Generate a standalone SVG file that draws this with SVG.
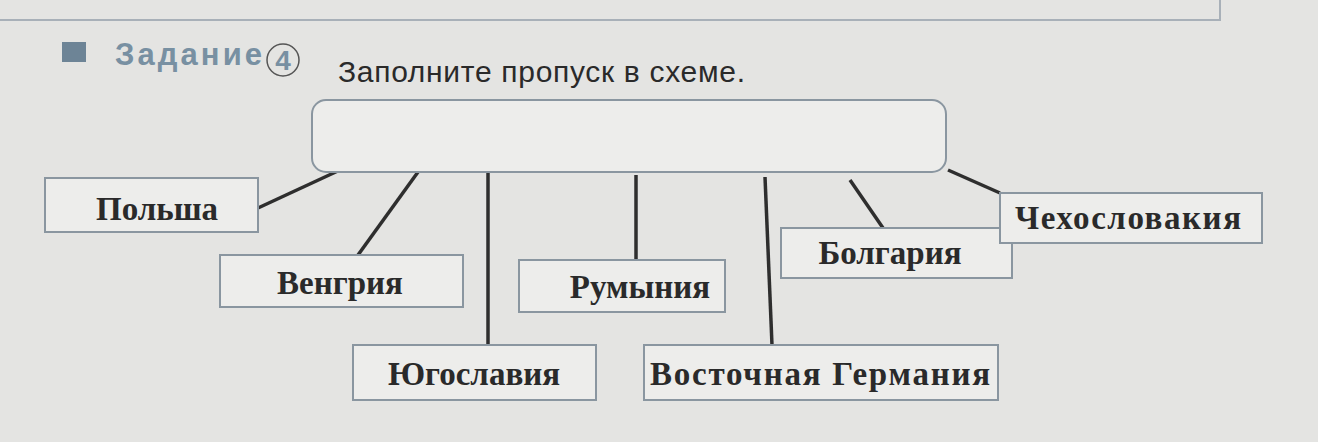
<svg xmlns="http://www.w3.org/2000/svg" width="1318" height="442" viewBox="0 0 1318 442">
<style>
.b{fill:#ededeb;stroke:#8a96a0;stroke-width:2}
.t{font-family:"Liberation Serif",serif;font-weight:bold;font-size:33px;fill:#2a2a2a;text-anchor:middle}
.c line{stroke:#2e2e2e;stroke-width:3.5}
</style>
<rect width="1318" height="442" fill="#e4e4e2"/>
<path d="M0 20 H1220 V0" fill="none" stroke="#a8b0b8" stroke-width="2"/>
<rect x="62" y="42" width="24" height="20" fill="#6d8496"/>
<text x="115" y="65" font-family="Liberation Sans,sans-serif" font-weight="bold" font-size="31" fill="#7890a2" textLength="147">Задание</text>
<circle cx="283" cy="60" r="16" fill="none" stroke="#555" stroke-width="1.5"/>
<text x="283" y="70" font-family="Liberation Sans,sans-serif" font-weight="bold" font-size="28" fill="#7890a2" text-anchor="middle">4</text>
<text x="338" y="82" font-family="Liberation Sans,sans-serif" font-size="30" fill="#2a2a2a" textLength="407">Заполните пропуск в схеме.</text>
<g class="c">
<line x1="340" y1="170" x2="258" y2="208"/>
<line x1="418" y1="172" x2="358" y2="255"/>
<line x1="488" y1="173" x2="488" y2="345"/>
<line x1="636" y1="175" x2="636" y2="260"/>
<line x1="765" y1="177" x2="772" y2="345"/>
<line x1="850" y1="180" x2="883" y2="228"/>
<line x1="948" y1="170" x2="1000" y2="193"/>
</g>
<g id="top"><rect class="b" x="312" y="100" width="634" height="72" rx="14" stroke="#7a9ab8" stroke-width="3"/></g>
<g id="pl"><rect class="b" x="45" y="178" width="213" height="54"/><text class="t" x="157" y="220">Польша</text></g>
<g id="hu"><rect class="b" x="220" y="255" width="243" height="52"/><text class="t" x="340" y="294">Венгрия</text></g>
<g id="yu"><rect class="b" x="353" y="345" width="243" height="55"/><text class="t" x="474" y="385">Югославия</text></g>
<g id="ro"><rect class="b" x="519" y="260" width="206" height="52"/><text class="t" x="640" y="298">Румыния</text></g>
<g id="gd"><rect class="b" x="644" y="345" width="354" height="55"/><text class="t" x="820" y="385" textLength="340">Восточная Германия</text></g>
<g id="bg"><rect class="b" x="781" y="228" width="231" height="50"/><text class="t" x="890" y="264">Болгария</text></g>
<g id="cs"><rect class="b" x="1000" y="193" width="262" height="50"/><text class="t" x="1128" y="229" textLength="226">Чехословакия</text></g>
</svg>
